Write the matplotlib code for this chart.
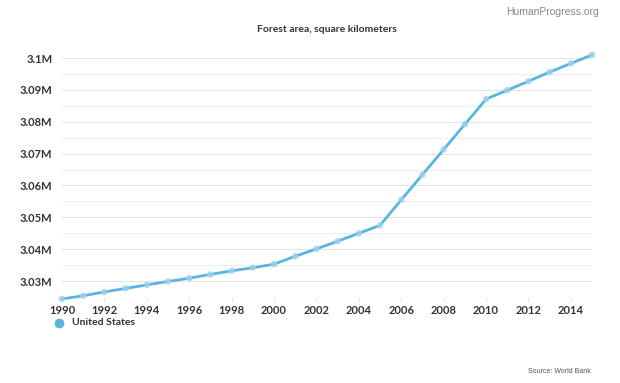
import matplotlib.pyplot as plt
from matplotlib.ticker import FixedLocator, MultipleLocator

years = list(range(1990, 2016))
forest_area = [
    3.0244, 3.0254, 3.0266, 3.0277, 3.0288, 3.0299, 3.0309, 3.0321, 3.0332,
    3.0342, 3.0353, 3.0378, 3.0401, 3.0425, 3.0450, 3.0475, 3.0555, 3.0634,
    3.0713, 3.0792, 3.0871, 3.0899, 3.0927, 3.0956, 3.0983, 3.1010,
]  # millions of square km
y_ticks = [3.03, 3.04, 3.05, 3.06, 3.07, 3.08, 3.09, 3.10]
y_labels = ["3.03M", "3.04M", "3.05M", "3.06M", "3.07M", "3.08M", "3.09M", "3.1M"]
x_ticks = list(range(1990, 2015, 2))

LINE = "#5ab4e0"
TEXT = "#333333"

plt.rcParams["font.family"] = ["Lato", "DejaVu Sans"]

fig = plt.figure(figsize=(6.2, 3.83), dpi=100)
ax = fig.add_axes([0.1, 0.2245, 0.855, 0.624])

ax.plot(years, forest_area, color=LINE, linewidth=2.0, zorder=3, clip_on=False)
ax.scatter(years, forest_area, s=22, color="#9fd2ee", alpha=0.8, edgecolors="none",
           zorder=4, clip_on=False)

ax.set_xlim(1990, 2015)
ax.set_ylim(3.025, 3.1)
ax.yaxis.set_major_locator(FixedLocator(y_ticks))
ax.set_yticklabels(y_labels)
ax.yaxis.set_minor_locator(MultipleLocator(0.005))
ax.set_xticks(x_ticks)
ax.set_xticklabels([str(y) for y in x_ticks])

ax.grid(axis="y", which="major", color="#e3e3e3", linewidth=0.8)
ax.grid(axis="y", which="minor", color="#eeeeee", linewidth=0.8)
ax.set_axisbelow(True)
for side in ["top", "right", "left", "bottom"]:
    ax.spines[side].set_visible(False)
ax.tick_params(axis="y", which="both", length=0, pad=7, labelsize=8, labelcolor=TEXT)
ax.tick_params(axis="x", length=3, color="#e6e6e6", pad=3, labelsize=8, labelcolor=TEXT)
for lbl in ax.get_xticklabels() + ax.get_yticklabels():
    lbl.set_fontweight("bold")

fig.text(0.528, 0.922, "Forest area, square kilometers", ha="center", va="center",
         fontsize=7.5, fontweight="bold", color=TEXT)
fig.text(0.966, 0.969, "HumanProgress.org", ha="right", va="center",
         fontsize=7.5, color="#888888", family=["Liberation Sans", "DejaVu Sans"])
fig.text(0.953, 0.031, "Source: World Bank", ha="right", va="center",
         fontsize=5, color="#555555", family=["Liberation Sans", "DejaVu Sans"])

fig.lines.append(plt.Line2D([0.095], [0.157], marker="o", markersize=6,
                            color=LINE, transform=fig.transFigure))
fig.text(0.116, 0.157, "United States", ha="left", va="center",
         fontsize=7.5, fontweight="bold", color=TEXT)

fig.savefig("out.png", dpi=100)
